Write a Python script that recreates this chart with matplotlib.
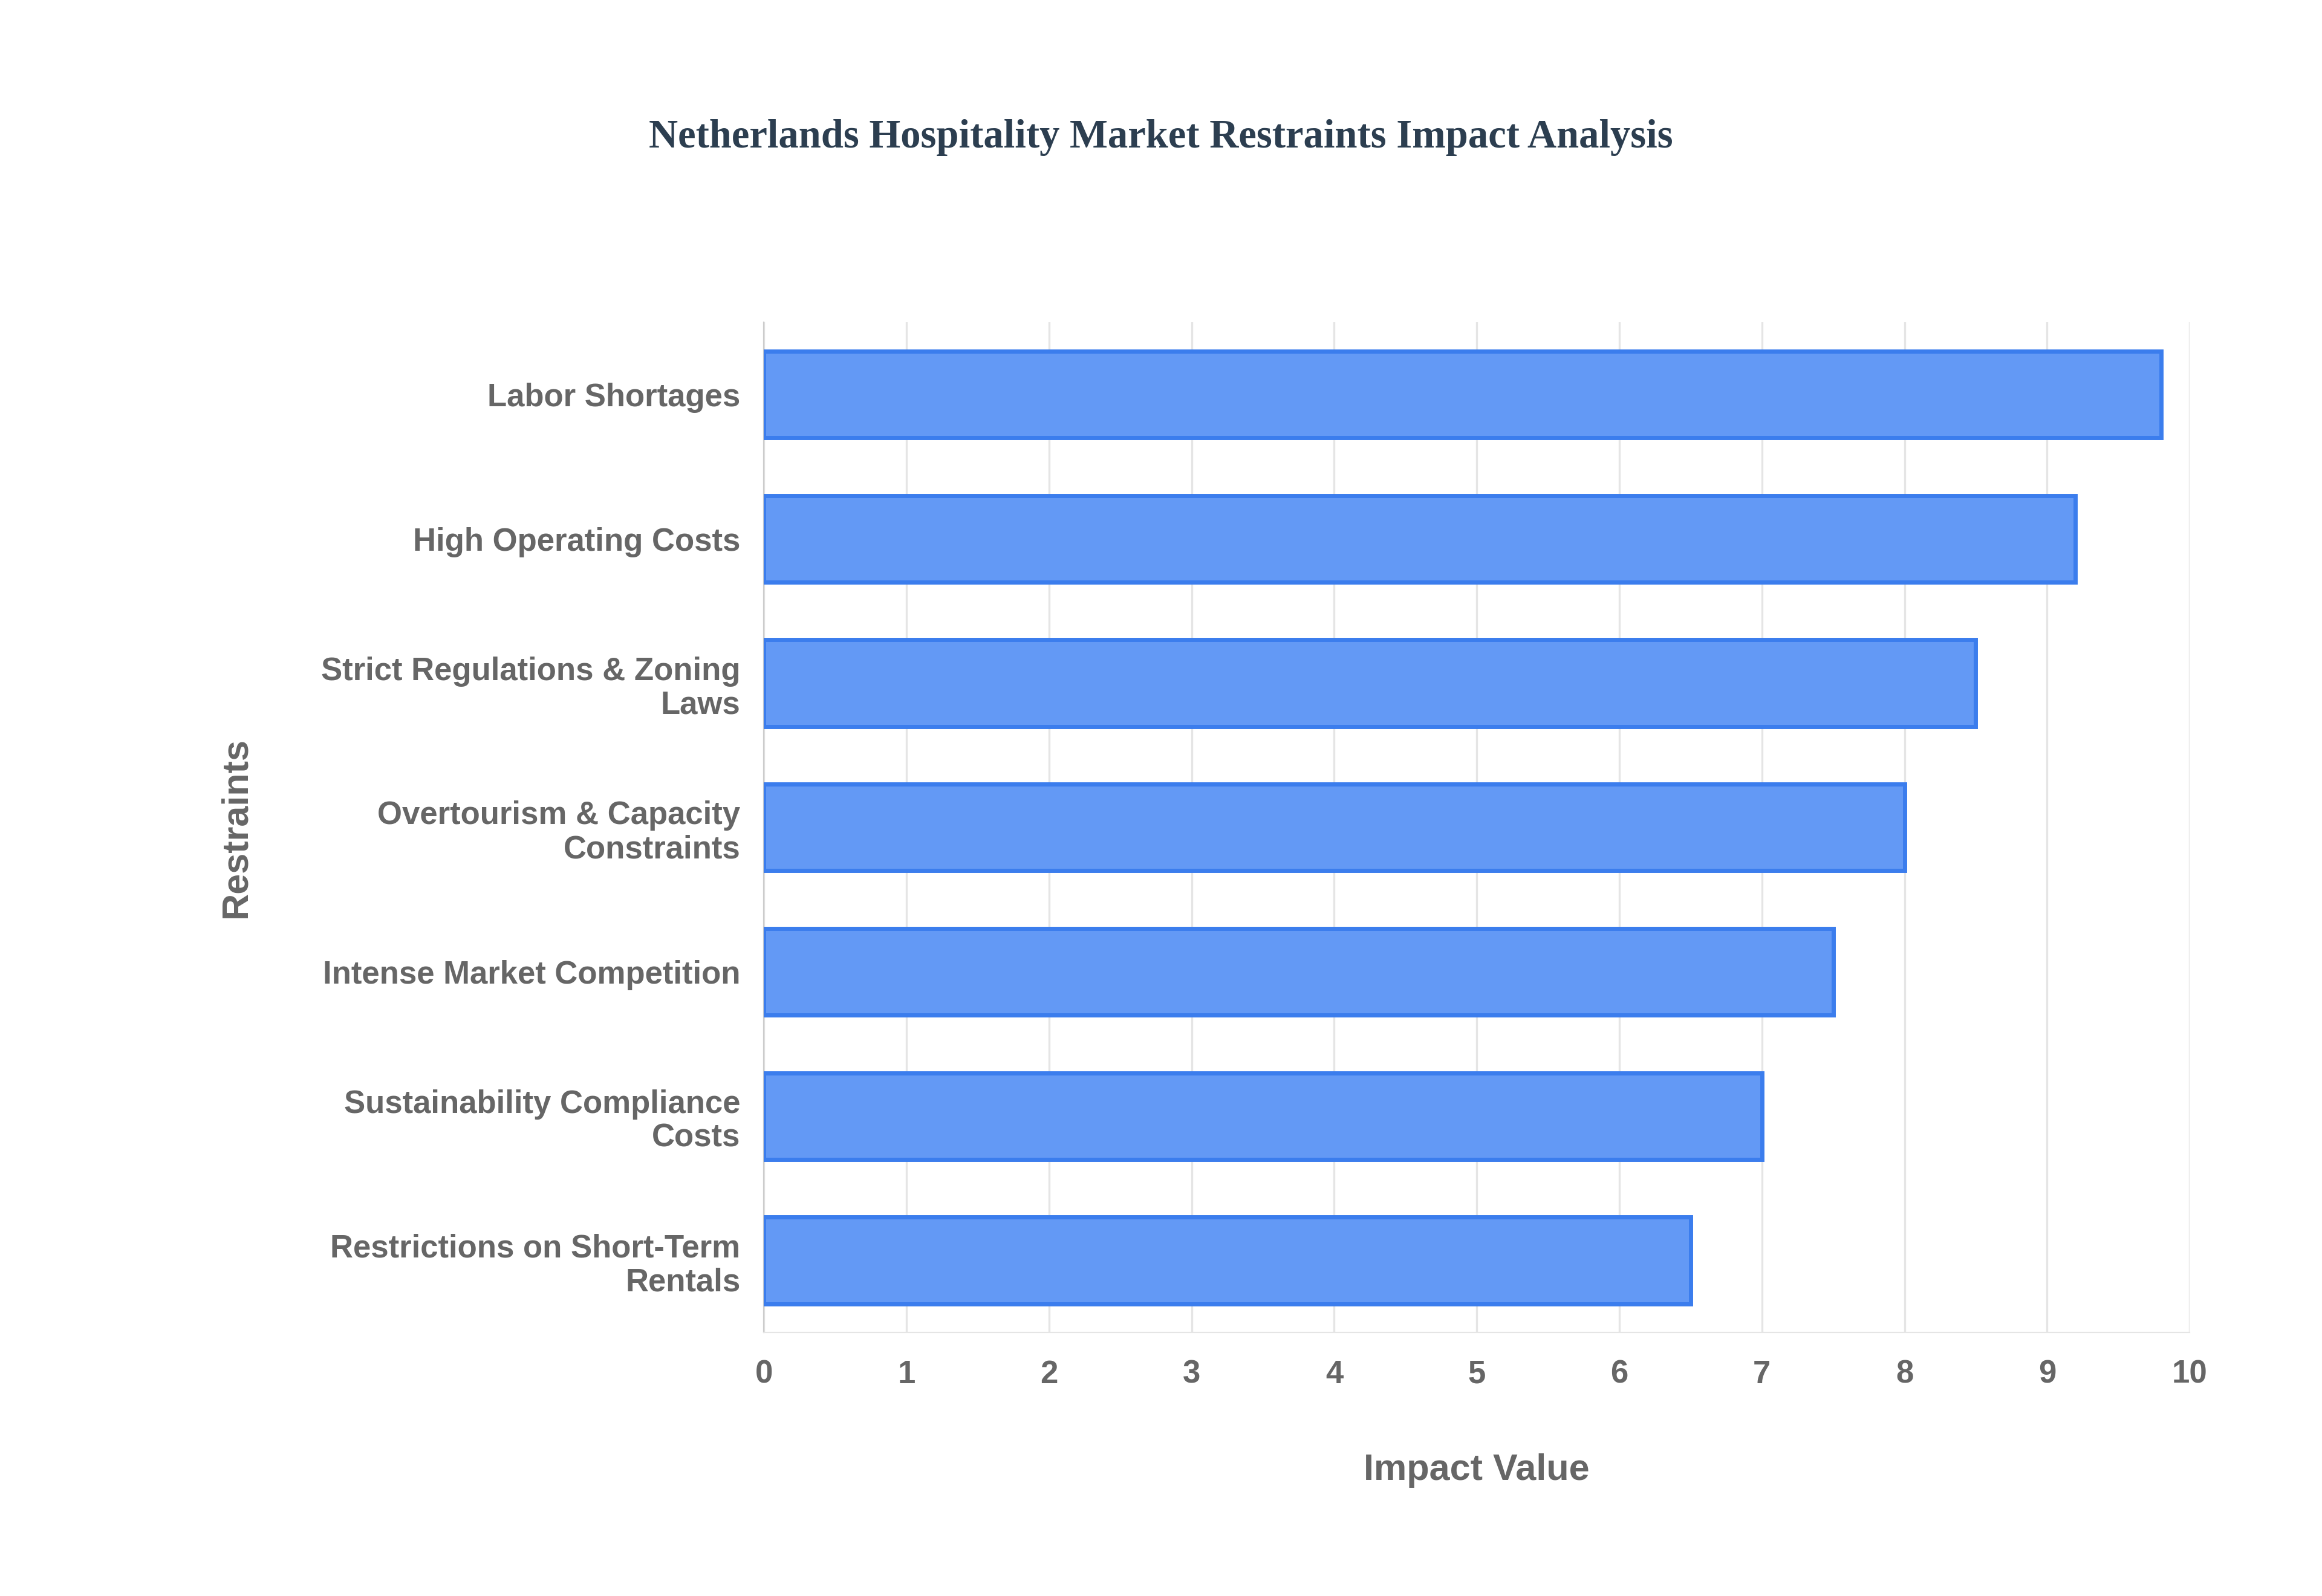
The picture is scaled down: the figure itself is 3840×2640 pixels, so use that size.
import matplotlib
matplotlib.use("Agg")
import matplotlib.pyplot as plt

categories = ["Labor Shortages", "High Operating Costs", "Strict Regulations & Zoning\nLaws",
              "Overtourism & Capacity\nConstraints", "Intense Market Competition",
              "Sustainability Compliance\nCosts", "Restrictions on Short-Term\nRentals"]
values = [9.8, 9.2, 8.5, 8.0, 7.5, 7.0, 6.5]

plt.rcParams['font.family'] = ['Liberation Sans', 'DejaVu Sans']
fig = plt.figure(figsize=(19.2, 13.2), dpi=200)
ax = fig.add_axes([0.329, 0.165, 0.614, 0.633])
y = list(range(len(categories)))
ax.barh(y, values, height=0.6, color='#6399f5', edgecolor='#3b7ded', linewidth=2.5, zorder=3)
ax.set_ylim(len(categories) - 0.5, -0.5)
ax.set_xlim(0, 10)
ax.set_xticks(range(11))
ax.set_yticks(y)
ax.set_yticklabels(categories, fontsize=19, fontweight='bold', color='#666666', linespacing=1.15)
for t in ax.get_xticklabels():
    t.set_fontsize(19); t.set_fontweight('bold'); t.set_color('#666666')
ax.tick_params(length=0, pad=14)
ax.tick_params(axis='x', pad=16)
ax.grid(axis='x', color='#e5e5e5', linewidth=1.2, zorder=0)
for s in ['top', 'right']:
    ax.spines[s].set_visible(False)
ax.spines['left'].set_color('#cccccc')
ax.spines['bottom'].set_color('#e5e5e5')
ax.set_xlabel("Impact Value", fontsize=22, fontweight='bold', color='#666666', labelpad=38)
ax.set_ylabel("Restraints", fontsize=22, fontweight='bold', color='#666666', labelpad=40)
fig.text(0.5, 0.914, "Netherlands Hospitality Market Restraints Impact Analysis", ha='center', va='center',
         fontsize=24, fontweight='bold', color='#2c3e50', family='Liberation Serif')
fig.savefig("out.png", dpi=200, facecolor='white')
